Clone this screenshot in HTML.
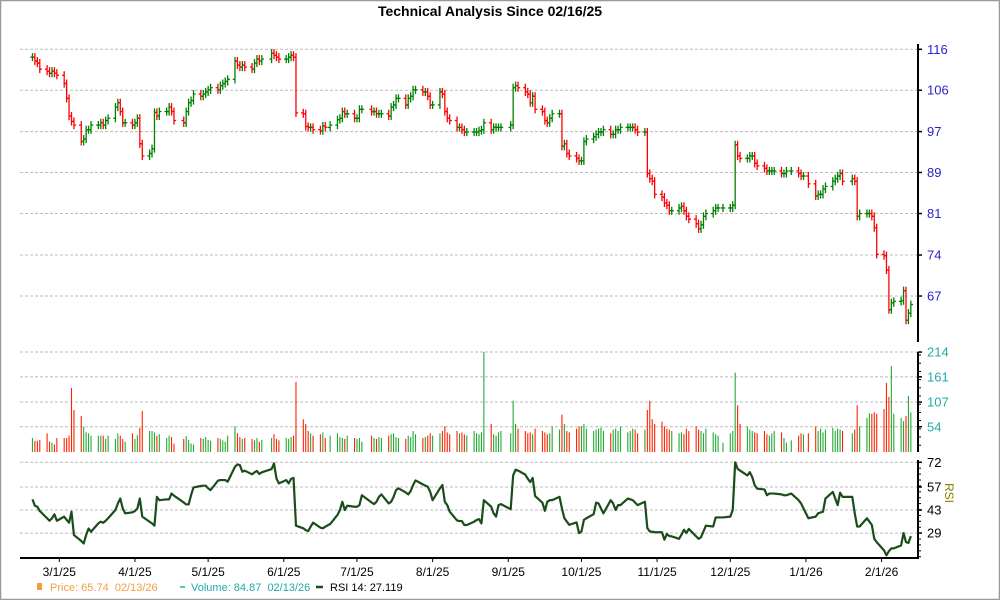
<!DOCTYPE html>
<html><head><meta charset="utf-8"><style>
html,body{margin:0;padding:0;background:#fff;}
svg{display:block;font-family:"Liberation Sans",sans-serif;}
</style></head><body>
<svg id="chart" width="1000" height="600" viewBox="0 0 1000 600" xmlns="http://www.w3.org/2000/svg">
<rect x="0.5" y="0.5" width="999" height="599" fill="#fff" stroke="#999" stroke-width="1.5"/>
<text x="490" y="16" text-anchor="middle" font-size="14" font-weight="bold" fill="#000">Technical Analysis Since 02/16/25</text>
<g id="grid"></g><g id="vol"></g><g id="price"></g><g id="rsi"></g><g id="axes"></g>
<g>
<rect x="37" y="583" width="5" height="7" fill="#f0a040"/>
<text x="50" y="591" font-size="11" fill="#f0a040" xml:space="preserve">Price: 65.74  02/13/26</text>
<line x1="180" y1="587" x2="185" y2="587" stroke="#22aaaa" stroke-width="1.5"/>
<text x="191" y="591" font-size="11" fill="#22aaaa" xml:space="preserve">Volume: 84.87  02/13/26</text>
<line x1="316" y1="587" x2="323" y2="587" stroke="#1a4d1a" stroke-width="2.5"/>
<text x="330" y="591" font-size="11" fill="#000">RSI 14: 27.119</text>
</g>
</svg>
<script>
const holidays = ["2025-04-18","2025-05-26","2025-06-19","2025-07-04","2025-09-01","2025-11-27","2025-12-25","2026-01-01","2026-01-19"];
const closes = [
114,113,112.5,111,110.5,110,110.5,110,109.5,
107.5,104,100,98.8,98,94.5,95,97,97,98,98,98.5,98,99,99.5,102,103,101,98.5,98.5,98,
98.5,99.5,94,91.5,92,93,100.8,100,101,101,102,101,99,98.5,101,103,103.5,105,104.5,105,105.5,
106,106.5,106,107,107.5,108,108.5,113,112,111.5,112,111.5,111,112.5,113.5,113,113.5,115,114.5,114,113.5,
113.5,114,114.5,114,100.7,100.5,97.7,97.5,97.5,97,96.8,97.8,97.5,98,99.2,99.5,101,100.5,100.5,99.5,
99.5,101.5,101.5,101,101,100.5,100.5,100.5,100,102,102.5,104,104,102.5,104,104.5,106,106,105.5,105.5,104.5,102.5,
102.5,105.5,105,101,99.5,99,97.5,97.5,97,96.5,96.5,96.5,96.5,96.8,97,98.5,97,97.5,97.5,97.5,97.5,
98,106.5,107,106.5,105.5,105,103,104.5,101.5,101,99,98.5,99.5,100.5,100.5,93.5,94,92,91.5,91,90.5,
90.5,94.5,95,95.5,96,96.5,96.5,97,96,96,97,97,97.5,97.5,97.5,97.5,97,96.5,96.5,88,87,86.5,84,
83.5,82.4,82,81,81,81.5,81.8,81,80,79.5,78.7,77.8,78.5,80,80.5,81,81.5,81.5,81.5,
81.5,82,93.8,91.5,91,91,91.5,91.5,90,89.5,89,88.5,88.5,88.5,88.5,88,88,88.5,88.5,88,87.5,87.5,
86,83.7,84,84,85,85.5,86.5,87,87.5,88,86.5,87,86.5,80,80.5,80.5,80.5,80,78,73.5,
73.3,71,65,66,66.2,66.3,67.8,63.5,64.5,65.74];
const volumes = [
30,24,24,26,40,22,20,16,30,
30,30,35,137,90,77,54,42,40,35,35,35,35,28,35,28,40,35,28,22,40,
28,36,52,88,45,45,42,35,38,30,35,32,18,28,34,26,18,16,30,28,32,
26,24,30,28,25,22,35,55,40,32,28,30,28,25,30,22,26,30,38,28,25,
30,28,32,35,150,70,60,45,40,35,38,42,30,35,40,32,30,28,35,30,
28,30,22,35,30,28,32,30,35,38,40,32,30,28,35,32,45,38,30,32,35,40,
35,40,45,55,42,38,45,40,42,38,35,45,40,38,42,214,60,38,35,42,45,
40,110,60,50,45,40,42,38,50,45,42,38,40,55,48,80,60,45,42,50,55,
55,60,50,45,48,50,52,45,40,48,50,45,55,42,45,50,48,40,48,90,110,70,60,
65,55,50,48,45,40,42,38,50,45,55,48,45,40,50,42,38,35,20,
40,45,170,100,60,55,48,45,42,40,45,38,35,40,45,42,30,20,25,35,40,38,
40,55,45,50,42,48,52,45,50,48,45,40,48,100,55,73,83,82,85,82,
92,148,118,184,82,73,66,77,120,84.87];
const rsiValues = [
49.5,45.6,45,42.4,38,36.5,38,40.4,36.5,
39,37,35.3,42,27.8,24.2,22.7,27.8,31.8,29.8,34.9,35.9,35.3,36.5,38,43,47,50,44,41,41.6,
42.4,44,50,39,35.9,34.9,33.5,51,49,49.5,49.5,53,51.7,47.6,46.4,46.4,52,56.7,57.6,57.8,57.8,
56.2,55.1,60.8,61.2,61.2,61.2,60.2,69.3,70.7,70.3,66.3,66.9,64.7,65.9,66.7,64.9,65.9,67.9,71.3,62.2,59.2,
61.2,59.2,62,62.5,33.5,31.9,30.8,30.2,32.9,35.3,32.3,31.9,32.9,34.5,40,43,48,43,45.6,45,
45,46,52,47.6,46.6,48,51,52.5,47,48,51,55.1,56.2,53.7,52.5,54.5,58.2,61,58.6,57.8,57.2,54.1,
49,56.2,58.2,48,46,42,36.7,36.3,36.3,33.9,33.9,35.9,36.9,37.5,34.9,49,45,41,39,46,46.6,
43.5,64,67.5,67,64.5,62,60,62.5,51.5,47.5,42.5,48,49,49,51,44,38,36,34,35.5,29,
30,37,38,40.5,47.5,47,44,41,49,47,43,46,46,50,49.5,49,47.5,46,48,32,30,29.8,29.5,
29.5,25,28.5,27.2,27,25.5,28,31,29,31.5,27,25.5,26.5,30,33.5,33,38.5,38.5,38.5,
39,43,72,68,67,64,66,63,58,56,55.5,52,53,53,53,52.5,52,52,53,49,47,44,
38,39,41,41.5,42,50,54,50,46,53.5,51,51,41,33,33,38,36,34,25.5,23.5,
18.5,15.5,18,19.7,19.7,21.5,29,23.5,23,27.12];
const priceTickValues = [116,105.9,96.6,88.2,80.5,73.4,67.0];
const priceTickLabels = ["116","106","97","89","81","74","67"];
const volTickValues = [214,161,107,54];
const rsiTickValues = [72,57,43,29];
const xTickDates = ["2025-03-01","2025-04-01","2025-05-01","2025-06-01","2025-07-01","2025-08-01","2025-09-01","2025-10-01","2025-11-01","2025-12-01","2026-01-01","2026-02-01"];
const xTickLabels = ["3/1/25","4/1/25","5/1/25","6/1/25","7/1/25","8/1/25","9/1/25","10/1/25","11/1/25","12/1/25","1/1/26","2/1/26"];

const NS = "http://www.w3.org/2000/svg";
const BASE = Date.UTC(2025,2,1);
function dayNum(s){const p=s.split("-");return (Date.UTC(+p[0],+p[1]-1,+p[2])-BASE)/86400000;}
function xScale(d){return 59.3 + d*2.44;}
function yPrice(p){return 49.3 + 449.5*Math.log(116/p);}
function yVol(v){return 452 - v*0.467;}
function yRsi(v){return 462.3 + (72-v)*1.646;}
function mk(tag, attrs, parent){const e=document.createElementNS(NS,tag);for(const k in attrs)e.setAttribute(k,attrs[k]);parent.appendChild(e);return e;}

const days = [];
{let t=Date.UTC(2025,1,18);const end=Date.UTC(2026,1,13);
 while(t<=end){const dt=new Date(t);const wd=dt.getUTCDay();const iso=dt.toISOString().slice(0,10);
  if(wd!==0&&wd!==6&&holidays.indexOf(iso)<0)days.push((t-BASE)/86400000);t+=86400000;}}
const N = Math.min(days.length, closes.length, volumes.length, rsiValues.length);

const grid=document.getElementById("grid"), axes=document.getElementById("axes");
const L=20, R=918;
priceTickValues.forEach(v=>{const y=yPrice(v);
 const g=mk("line",{x1:L,x2:R,y1:y,y2:y,stroke:"#bbb","stroke-dasharray":"3,2","stroke-width":1},grid);
 
 });
volTickValues.forEach(v=>{const y=yVol(v);
 const g=mk("line",{x1:L,x2:R,y1:y,y2:y,stroke:"#bbb","stroke-dasharray":"3,2","stroke-width":1},grid);
 
 });
rsiTickValues.forEach(v=>{const y=yRsi(v);
 const g=mk("line",{x1:L,x2:R,y1:y,y2:y,stroke:"#bbb","stroke-dasharray":"3,2","stroke-width":1},grid);
 
 });

const pg=document.getElementById("price");
for(let i=0;i<N;i++){
 const c=closes[i], o=i>0?closes[i-1]:closes[i];
 const hi=Math.max(o,c)*1.009, lo=Math.min(o,c)*0.991;
 const x=xScale(days[i]);
 const col=c>=o?"#008000":"#ff0000";
 const g=mk("g",{stroke:col,"stroke-width":1.3},pg);
 
 
 mk("line",{x1:x,x2:x,y1:yPrice(hi),y2:yPrice(lo)},g);
 mk("line",{x1:x-2.2,x2:x,y1:yPrice(o),y2:yPrice(o)},g);
 mk("line",{x1:x,x2:x+2.2,y1:yPrice(c),y2:yPrice(c)},g);
}
const vg=document.getElementById("vol");
for(let i=0;i<N;i++){
 const up=i>0?closes[i]>=closes[i-1]:true;
 const x=xScale(days[i]);
 const b=mk("line",{x1:x,x2:x,y1:yVol(0),y2:yVol(volumes[i]),stroke:up?"#22aa33":"#ff2200","stroke-width":1.1},vg);
 
 
}
const rg=document.getElementById("rsi");
let d="";
for(let i=0;i<N;i++){d+=(i?"L":"M")+xScale(days[i]).toFixed(2)+","+yRsi(rsiValues[i]).toFixed(2);}
const rl=mk("path",{d:d,fill:"none",stroke:"#1a4d1a","stroke-width":2.2,"stroke-linejoin":"round"},rg);



function axisLine(y1,y2,name){const a=mk("line",{x1:R,x2:R,y1:y1,y2:y2,stroke:"#000","stroke-width":2},axes);
 
 }
axisLine(44,342,'price-axis');
axisLine(352,452,'volume-axis');
axisLine(460,559,'rsi-axis');
const xa=mk("line",{x1:L,x2:R+1,y1:558,y2:558,stroke:"#000","stroke-width":2},axes);



priceTickValues.forEach((v,i)=>{const y=yPrice(v);
 mk("line",{x1:R,x2:R+4,y1:y,y2:y,stroke:"#000","stroke-width":1.5},axes);
 const t=mk("text",{x:R+9,y:y+4.5,"font-size":13,fill:"#2a1fcc"},axes);
 t.textContent=priceTickLabels[i];
 
 });
for(let y=355;y<452;y+=8.2){mk("line",{x1:R,x2:R+3,y1:y,y2:y,stroke:"#000","stroke-width":1},axes);}
volTickValues.forEach(v=>{const y=yVol(v);
 mk("line",{x1:R,x2:R+4,y1:y,y2:y,stroke:"#000","stroke-width":1.5},axes);
 const t=mk("text",{x:R+9,y:y+4.5,"font-size":13,fill:"#22aaaa"},axes);
 t.textContent=String(v);
 
 });
for(let y=462.3;y<558;y+=5.9){mk("line",{x1:R,x2:R+3,y1:y,y2:y,stroke:"#000","stroke-width":1},axes);}
rsiTickValues.forEach(v=>{const y=yRsi(v);
 mk("line",{x1:R,x2:R+4,y1:y,y2:y,stroke:"#000","stroke-width":1.5},axes);
 const t=mk("text",{x:R+9,y:y+4.5,"font-size":13,fill:"#000"},axes);
 t.textContent=String(v);
 
 });
const rt=mk("text",{x:945,y:493,"font-size":12,fill:"#8a7a00",transform:"rotate(90 945 493)","text-anchor":"middle"},axes);
rt.textContent="RSI";



xTickDates.forEach((s,i)=>{const x=xScale(dayNum(s));
 mk("line",{x1:x,x2:x,y1:558,y2:562,stroke:"#000","stroke-width":1},axes);
 const t=mk("text",{x:x,y:576,"font-size":12,fill:"#000","text-anchor":"middle"},axes);
 t.textContent=xTickLabels[i];
 
 });
</script>
</body></html>
